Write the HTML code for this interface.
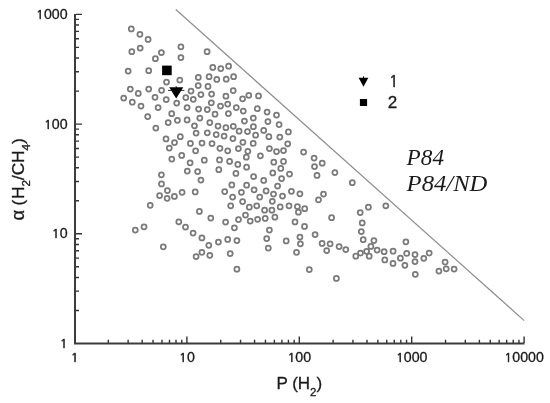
<!DOCTYPE html>
<html><head><meta charset="utf-8"><style>
html,body{margin:0;padding:0;background:#fff;}
svg{display:block;}
</style></head><body>
<svg width="550" height="403" viewBox="0 0 550 403">
<rect width="550" height="403" fill="#fff"/>
<path d="M75 14V344.5M74 343.5H524.5" stroke="#3c3c3c" stroke-width="2" fill="none"/>
<path d="M76 310.48H79M76 291.16H79M76 277.45H79M76 266.82H79M76 258.14H79M76 250.79H79M76 244.43H79M76 238.82H79M76 200.78H79M76 181.46H79M76 167.75H79M76 157.12H79M76 148.44H79M76 141.09H79M76 134.73H79M76 129.12H79M76 91.08H79M76 71.76H79M76 58.05H79M76 47.42H79M76 38.74H79M76 31.39H79M76 25.03H79M76 19.42H79M76 233.80H82M76 124.10H82M76 14.40H82M108.34 343V339.8M128.13 343V339.8M142.17 343V339.8M153.06 343V339.8M161.96 343V339.8M169.49 343V339.8M176.01 343V339.8M181.76 343V339.8M220.74 343V339.8M240.53 343V339.8M254.57 343V339.8M265.46 343V339.8M274.36 343V339.8M281.89 343V339.8M288.41 343V339.8M294.16 343V339.8M333.14 343V339.8M352.93 343V339.8M366.97 343V339.8M377.86 343V339.8M386.76 343V339.8M394.29 343V339.8M400.81 343V339.8M406.56 343V339.8M445.54 343V339.8M465.33 343V339.8M479.37 343V339.8M490.26 343V339.8M499.16 343V339.8M506.69 343V339.8M513.21 343V339.8M518.96 343V339.8M186.90 343V336.6M299.30 343V336.6M411.70 343V336.6M524.10 343V336.6" stroke="#333" stroke-width="1.4" fill="none"/>
<line x1="175.8" y1="9.5" x2="524.2" y2="320.6" stroke="#8e8e8e" stroke-width="1.2"/>
<g fill="none" stroke="#7a7a7a" stroke-width="1.75"><circle cx="131.3" cy="28.9" r="2.5"/><circle cx="139.9" cy="34.3" r="2.5"/><circle cx="148.1" cy="39.4" r="2.5"/><circle cx="131.8" cy="51.7" r="2.5"/><circle cx="140.2" cy="48.0" r="2.5"/><circle cx="161.4" cy="52.5" r="2.5"/><circle cx="155.4" cy="58.7" r="2.5"/><circle cx="180.9" cy="46.8" r="2.5"/><circle cx="180.9" cy="57.5" r="2.5"/><circle cx="128.2" cy="71.1" r="2.5"/><circle cx="148.7" cy="70.7" r="2.5"/><circle cx="207.1" cy="51.7" r="2.5"/><circle cx="212.8" cy="67.4" r="2.5"/><circle cx="220.8" cy="68.6" r="2.5"/><circle cx="228.6" cy="66.2" r="2.5"/><circle cx="198.3" cy="77.4" r="2.5"/><circle cx="209.1" cy="76.7" r="2.5"/><circle cx="216.8" cy="79.4" r="2.5"/><circle cx="226.2" cy="79.2" r="2.5"/><circle cx="233.6" cy="76.7" r="2.5"/><circle cx="166.5" cy="82.1" r="2.5"/><circle cx="179.8" cy="80.1" r="2.5"/><circle cx="130.3" cy="89.1" r="2.5"/><circle cx="138.3" cy="93.4" r="2.5"/><circle cx="148.7" cy="89.1" r="2.5"/><circle cx="161.6" cy="90.3" r="2.5"/><circle cx="123.7" cy="98.0" r="2.5"/><circle cx="132.3" cy="102.2" r="2.5"/><circle cx="141.0" cy="106.1" r="2.5"/><circle cx="155.0" cy="97.3" r="2.5"/><circle cx="166.2" cy="99.5" r="2.5"/><circle cx="176.7" cy="103.0" r="2.5"/><circle cx="185.8" cy="97.6" r="2.5"/><circle cx="158.1" cy="107.5" r="2.5"/><circle cx="187.1" cy="107.5" r="2.5"/><circle cx="147.7" cy="116.6" r="2.5"/><circle cx="171.7" cy="113.7" r="2.5"/><circle cx="168.2" cy="122.6" r="2.5"/><circle cx="177.4" cy="120.3" r="2.5"/><circle cx="187.1" cy="119.9" r="2.5"/><circle cx="155.8" cy="128.0" r="2.5"/><circle cx="191.0" cy="91.0" r="2.5"/><circle cx="193.3" cy="99.3" r="2.5"/><circle cx="198.2" cy="85.6" r="2.5"/><circle cx="208.0" cy="86.4" r="2.5"/><circle cx="200.9" cy="94.6" r="2.5"/><circle cx="211.6" cy="94.1" r="2.5"/><circle cx="233.2" cy="90.6" r="2.5"/><circle cx="225.9" cy="96.2" r="2.5"/><circle cx="242.6" cy="98.8" r="2.5"/><circle cx="248.8" cy="95.3" r="2.5"/><circle cx="258.5" cy="95.9" r="2.5"/><circle cx="211.3" cy="102.8" r="2.5"/><circle cx="198.6" cy="109.0" r="2.5"/><circle cx="207.3" cy="109.5" r="2.5"/><circle cx="220.5" cy="106.1" r="2.5"/><circle cx="227.7" cy="104.0" r="2.5"/><circle cx="236.3" cy="107.5" r="2.5"/><circle cx="243.3" cy="111.0" r="2.5"/><circle cx="257.3" cy="108.7" r="2.5"/><circle cx="215.0" cy="114.2" r="2.5"/><circle cx="228.4" cy="113.6" r="2.5"/><circle cx="199.8" cy="118.0" r="2.5"/><circle cx="209.8" cy="122.6" r="2.5"/><circle cx="194.5" cy="125.8" r="2.5"/><circle cx="218.0" cy="126.0" r="2.5"/><circle cx="225.9" cy="127.7" r="2.5"/><circle cx="233.3" cy="126.3" r="2.5"/><circle cx="244.4" cy="121.1" r="2.5"/><circle cx="253.3" cy="118.0" r="2.5"/><circle cx="253.4" cy="126.7" r="2.5"/><circle cx="267.1" cy="112.0" r="2.5"/><circle cx="276.5" cy="115.0" r="2.5"/><circle cx="267.9" cy="121.5" r="2.5"/><circle cx="279.1" cy="124.6" r="2.5"/><circle cx="166.0" cy="138.9" r="2.5"/><circle cx="180.3" cy="136.7" r="2.5"/><circle cx="174.5" cy="142.6" r="2.5"/><circle cx="169.3" cy="148.0" r="2.5"/><circle cx="181.7" cy="155.4" r="2.5"/><circle cx="171.8" cy="159.0" r="2.5"/><circle cx="187.3" cy="171.0" r="2.5"/><circle cx="161.4" cy="174.8" r="2.5"/><circle cx="239.1" cy="131.2" r="2.5"/><circle cx="247.5" cy="131.6" r="2.5"/><circle cx="255.6" cy="135.2" r="2.5"/><circle cx="196.1" cy="133.1" r="2.5"/><circle cx="207.3" cy="132.8" r="2.5"/><circle cx="216.2" cy="134.5" r="2.5"/><circle cx="224.1" cy="136.1" r="2.5"/><circle cx="232.9" cy="138.6" r="2.5"/><circle cx="190.4" cy="143.4" r="2.5"/><circle cx="202.0" cy="143.1" r="2.5"/><circle cx="212.0" cy="143.5" r="2.5"/><circle cx="242.9" cy="142.3" r="2.5"/><circle cx="253.2" cy="143.4" r="2.5"/><circle cx="195.6" cy="150.8" r="2.5"/><circle cx="219.9" cy="148.3" r="2.5"/><circle cx="227.7" cy="150.8" r="2.5"/><circle cx="238.4" cy="148.6" r="2.5"/><circle cx="247.8" cy="151.3" r="2.5"/><circle cx="246.3" cy="157.2" r="2.5"/><circle cx="204.3" cy="160.2" r="2.5"/><circle cx="219.5" cy="159.9" r="2.5"/><circle cx="229.6" cy="161.4" r="2.5"/><circle cx="237.8" cy="164.4" r="2.5"/><circle cx="246.6" cy="167.2" r="2.5"/><circle cx="190.1" cy="162.8" r="2.5"/><circle cx="197.6" cy="171.6" r="2.5"/><circle cx="218.8" cy="169.7" r="2.5"/><circle cx="235.9" cy="173.4" r="2.5"/><circle cx="253.6" cy="176.6" r="2.5"/><circle cx="263.7" cy="130.4" r="2.5"/><circle cx="288.4" cy="131.9" r="2.5"/><circle cx="268.9" cy="136.7" r="2.5"/><circle cx="279.8" cy="137.1" r="2.5"/><circle cx="287.7" cy="143.8" r="2.5"/><circle cx="269.4" cy="148.6" r="2.5"/><circle cx="276.5" cy="151.6" r="2.5"/><circle cx="283.5" cy="150.5" r="2.5"/><circle cx="303.6" cy="152.0" r="2.5"/><circle cx="260.4" cy="155.8" r="2.5"/><circle cx="314.1" cy="158.0" r="2.5"/><circle cx="322.2" cy="163.2" r="2.5"/><circle cx="314.5" cy="166.6" r="2.5"/><circle cx="273.8" cy="162.2" r="2.5"/><circle cx="283.5" cy="161.4" r="2.5"/><circle cx="280.8" cy="168.4" r="2.5"/><circle cx="272.8" cy="172.9" r="2.5"/><circle cx="289.5" cy="174.1" r="2.5"/><circle cx="317.0" cy="175.4" r="2.5"/><circle cx="334.9" cy="172.6" r="2.5"/><circle cx="161.5" cy="183.9" r="2.5"/><circle cx="167.4" cy="190.6" r="2.5"/><circle cx="159.6" cy="195.6" r="2.5"/><circle cx="167.1" cy="198.3" r="2.5"/><circle cx="174.4" cy="196.4" r="2.5"/><circle cx="182.1" cy="192.3" r="2.5"/><circle cx="150.2" cy="205.3" r="2.5"/><circle cx="178.8" cy="221.8" r="2.5"/><circle cx="185.5" cy="227.1" r="2.5"/><circle cx="144.0" cy="226.8" r="2.5"/><circle cx="200.9" cy="180.1" r="2.5"/><circle cx="231.8" cy="184.9" r="2.5"/><circle cx="246.6" cy="185.2" r="2.5"/><circle cx="254.1" cy="189.8" r="2.5"/><circle cx="195.2" cy="191.9" r="2.5"/><circle cx="224.7" cy="191.6" r="2.5"/><circle cx="232.6" cy="197.1" r="2.5"/><circle cx="241.4" cy="192.3" r="2.5"/><circle cx="242.6" cy="201.6" r="2.5"/><circle cx="230.7" cy="205.8" r="2.5"/><circle cx="249.3" cy="207.2" r="2.5"/><circle cx="256.7" cy="205.8" r="2.5"/><circle cx="199.4" cy="211.4" r="2.5"/><circle cx="245.5" cy="215.0" r="2.5"/><circle cx="210.8" cy="218.0" r="2.5"/><circle cx="225.6" cy="222.0" r="2.5"/><circle cx="238.5" cy="219.6" r="2.5"/><circle cx="250.2" cy="221.1" r="2.5"/><circle cx="257.6" cy="219.3" r="2.5"/><circle cx="234.4" cy="227.8" r="2.5"/><circle cx="263.7" cy="180.4" r="2.5"/><circle cx="281.6" cy="178.6" r="2.5"/><circle cx="277.6" cy="186.1" r="2.5"/><circle cx="266.1" cy="190.9" r="2.5"/><circle cx="273.5" cy="194.1" r="2.5"/><circle cx="282.5" cy="196.1" r="2.5"/><circle cx="291.4" cy="191.3" r="2.5"/><circle cx="299.9" cy="193.8" r="2.5"/><circle cx="323.5" cy="194.1" r="2.5"/><circle cx="318.5" cy="199.8" r="2.5"/><circle cx="259.7" cy="197.1" r="2.5"/><circle cx="272.3" cy="201.3" r="2.5"/><circle cx="264.6" cy="210.2" r="2.5"/><circle cx="271.9" cy="210.2" r="2.5"/><circle cx="280.2" cy="206.9" r="2.5"/><circle cx="289.0" cy="205.8" r="2.5"/><circle cx="297.4" cy="206.5" r="2.5"/><circle cx="298.4" cy="212.2" r="2.5"/><circle cx="304.7" cy="208.7" r="2.5"/><circle cx="265.2" cy="218.4" r="2.5"/><circle cx="274.9" cy="217.2" r="2.5"/><circle cx="295.0" cy="221.9" r="2.5"/><circle cx="304.5" cy="226.4" r="2.5"/><circle cx="352.3" cy="182.7" r="2.5"/><circle cx="368.4" cy="207.2" r="2.5"/><circle cx="385.8" cy="205.8" r="2.5"/><circle cx="360.2" cy="212.5" r="2.5"/><circle cx="331.6" cy="217.7" r="2.5"/><circle cx="362.2" cy="222.9" r="2.5"/><circle cx="135.3" cy="230.0" r="2.5"/><circle cx="163.3" cy="246.8" r="2.5"/><circle cx="193.1" cy="233.1" r="2.5"/><circle cx="201.9" cy="237.9" r="2.5"/><circle cx="208.8" cy="245.3" r="2.5"/><circle cx="218.4" cy="242.0" r="2.5"/><circle cx="227.7" cy="239.4" r="2.5"/><circle cx="236.9" cy="240.6" r="2.5"/><circle cx="201.9" cy="252.3" r="2.5"/><circle cx="196.1" cy="256.5" r="2.5"/><circle cx="209.8" cy="255.3" r="2.5"/><circle cx="230.2" cy="253.5" r="2.5"/><circle cx="236.9" cy="269.2" r="2.5"/><circle cx="269.4" cy="230.0" r="2.5"/><circle cx="266.7" cy="238.6" r="2.5"/><circle cx="268.3" cy="248.0" r="2.5"/><circle cx="286.2" cy="240.9" r="2.5"/><circle cx="299.9" cy="237.1" r="2.5"/><circle cx="300.4" cy="243.8" r="2.5"/><circle cx="296.5" cy="252.3" r="2.5"/><circle cx="315.1" cy="234.5" r="2.5"/><circle cx="322.1" cy="243.4" r="2.5"/><circle cx="326.7" cy="250.5" r="2.5"/><circle cx="309.3" cy="269.5" r="2.5"/><circle cx="361.3" cy="231.6" r="2.5"/><circle cx="363.2" cy="239.7" r="2.5"/><circle cx="373.9" cy="240.6" r="2.5"/><circle cx="370.9" cy="246.4" r="2.5"/><circle cx="377.1" cy="250.1" r="2.5"/><circle cx="366.6" cy="251.3" r="2.5"/><circle cx="360.5" cy="253.1" r="2.5"/><circle cx="355.8" cy="256.2" r="2.5"/><circle cx="369.2" cy="256.2" r="2.5"/><circle cx="384.1" cy="251.7" r="2.5"/><circle cx="393.1" cy="251.2" r="2.5"/><circle cx="384.8" cy="259.9" r="2.5"/><circle cx="393.0" cy="263.4" r="2.5"/><circle cx="330.1" cy="243.8" r="2.5"/><circle cx="339.1" cy="246.5" r="2.5"/><circle cx="345.8" cy="249.5" r="2.5"/><circle cx="336.4" cy="278.4" r="2.5"/><circle cx="405.9" cy="241.8" r="2.5"/><circle cx="406.7" cy="253.4" r="2.5"/><circle cx="400.4" cy="258.2" r="2.5"/><circle cx="404.9" cy="265.3" r="2.5"/><circle cx="415.0" cy="254.5" r="2.5"/><circle cx="415.0" cy="261.6" r="2.5"/><circle cx="415.3" cy="274.3" r="2.5"/><circle cx="423.8" cy="258.3" r="2.5"/><circle cx="429.2" cy="253.1" r="2.5"/><circle cx="445.1" cy="262.0" r="2.5"/><circle cx="446.2" cy="268.8" r="2.5"/><circle cx="438.9" cy="271.0" r="2.5"/><circle cx="454.1" cy="269.1" r="2.5"/></g>
<rect x="162.1" y="65.6" width="9.6" height="9.6" fill="#000"/>
<path d="M169.2 87.2H183.3L176.2 98.6Z" fill="#000"/>
<path d="M168 90.4H184.4M176.2 86V88" stroke="#000" stroke-width="0.8"/>
<path d="M358.6 77.8H368.3L363.5 86.8Z" fill="#000"/><path d="M363.5 76.4V78" stroke="#000" stroke-width="1"/>
<rect x="359.9" y="99" width="7.2" height="7" fill="#000"/>
<text x="388.9" y="86.6" font-family="Liberation Sans, Arial, sans-serif" font-size="17" fill="#1a1a1a" stroke="#1a1a1a" stroke-width="0.3"><tspan font-family="NanumGothic, sans-serif" font-size="15.30" stroke-width="0.55">1</tspan></text>
<text x="387.7" y="107.9" font-family="Liberation Sans, Arial, sans-serif" font-size="17" fill="#1a1a1a" stroke="#1a1a1a" stroke-width="0.3">2</text>
<text x="67.6" y="18.8" font-family="Liberation Sans, Arial, sans-serif" font-size="14.2" text-anchor="end" fill="#1a1a1a" stroke="#1a1a1a" stroke-width="0.3"><tspan font-family="NanumGothic, sans-serif" font-size="12.78" stroke-width="0.55">1</tspan><tspan dx="0.15">000</tspan></text>
<text x="67.6" y="128.5" font-family="Liberation Sans, Arial, sans-serif" font-size="14.2" text-anchor="end" fill="#1a1a1a" stroke="#1a1a1a" stroke-width="0.3"><tspan font-family="NanumGothic, sans-serif" font-size="12.78" stroke-width="0.55">1</tspan><tspan dx="0.15">00</tspan></text>
<text x="67.6" y="238.0" font-family="Liberation Sans, Arial, sans-serif" font-size="14.2" text-anchor="end" fill="#1a1a1a" stroke="#1a1a1a" stroke-width="0.3"><tspan font-family="NanumGothic, sans-serif" font-size="12.78" stroke-width="0.55">1</tspan><tspan dx="0.15">0</tspan></text>
<text x="67.6" y="347.8" font-family="Liberation Sans, Arial, sans-serif" font-size="14.2" text-anchor="end" fill="#1a1a1a" stroke="#1a1a1a" stroke-width="0.3"><tspan font-family="NanumGothic, sans-serif" font-size="12.78" stroke-width="0.55">1</tspan></text>
<text x="74.5" y="361.6" font-family="Liberation Sans, Arial, sans-serif" font-size="14.2" text-anchor="middle" fill="#1a1a1a" stroke="#1a1a1a" stroke-width="0.3"><tspan font-family="NanumGothic, sans-serif" font-size="12.78" stroke-width="0.55">1</tspan></text>
<text x="186.9" y="361.6" font-family="Liberation Sans, Arial, sans-serif" font-size="14.2" text-anchor="middle" fill="#1a1a1a" stroke="#1a1a1a" stroke-width="0.3"><tspan font-family="NanumGothic, sans-serif" font-size="12.78" stroke-width="0.55">1</tspan><tspan dx="0.15">0</tspan></text>
<text x="299.3" y="361.6" font-family="Liberation Sans, Arial, sans-serif" font-size="14.2" text-anchor="middle" fill="#1a1a1a" stroke="#1a1a1a" stroke-width="0.3"><tspan font-family="NanumGothic, sans-serif" font-size="12.78" stroke-width="0.55">1</tspan><tspan dx="0.15">00</tspan></text>
<text x="411.7" y="361.6" font-family="Liberation Sans, Arial, sans-serif" font-size="14.2" text-anchor="middle" fill="#1a1a1a" stroke="#1a1a1a" stroke-width="0.3"><tspan font-family="NanumGothic, sans-serif" font-size="12.78" stroke-width="0.55">1</tspan><tspan dx="0.15">000</tspan></text>
<text x="524.1" y="361.6" font-family="Liberation Sans, Arial, sans-serif" font-size="14.2" text-anchor="middle" fill="#1a1a1a" stroke="#1a1a1a" stroke-width="0.3"><tspan font-family="NanumGothic, sans-serif" font-size="12.78" stroke-width="0.55">1</tspan><tspan dx="0.15">0000</tspan></text>
<text x="276.4" y="389" font-family="Liberation Sans, Arial, sans-serif" font-size="17" fill="#1a1a1a" stroke="#1a1a1a" stroke-width="0.3">P (H<tspan font-size="11.5" dy="6.7">2</tspan><tspan dy="-6.7">)</tspan></text>
<text transform="translate(23.8 220.6) rotate(-90)" font-family="Liberation Sans, Arial, sans-serif" font-size="18.5" fill="#1a1a1a" stroke="#1a1a1a" stroke-width="0.3">α</text>
<text transform="translate(23.8 205.5) rotate(-90)" font-family="Liberation Sans, Arial, sans-serif" font-size="17.2" fill="#1a1a1a" stroke="#1a1a1a" stroke-width="0.3">(<tspan dx="0.8">H</tspan><tspan font-size="11.6" dy="6.5">2</tspan><tspan dy="-6.5">/CH</tspan><tspan font-size="11.6" dy="6.5">4</tspan><tspan dy="-6.5">)</tspan></text>
<text x="406.6" y="164.8" font-family="Liberation Serif, Times New Roman, serif" font-style="italic" font-size="23.6" textLength="37.4" lengthAdjust="spacingAndGlyphs" fill="#1a1a1a">P84</text>
<text x="406.6" y="190.8" font-family="Liberation Serif, Times New Roman, serif" font-style="italic" font-size="23.6" textLength="80.8" lengthAdjust="spacingAndGlyphs" fill="#1a1a1a">P84/ND</text>
</svg>
</body></html>
